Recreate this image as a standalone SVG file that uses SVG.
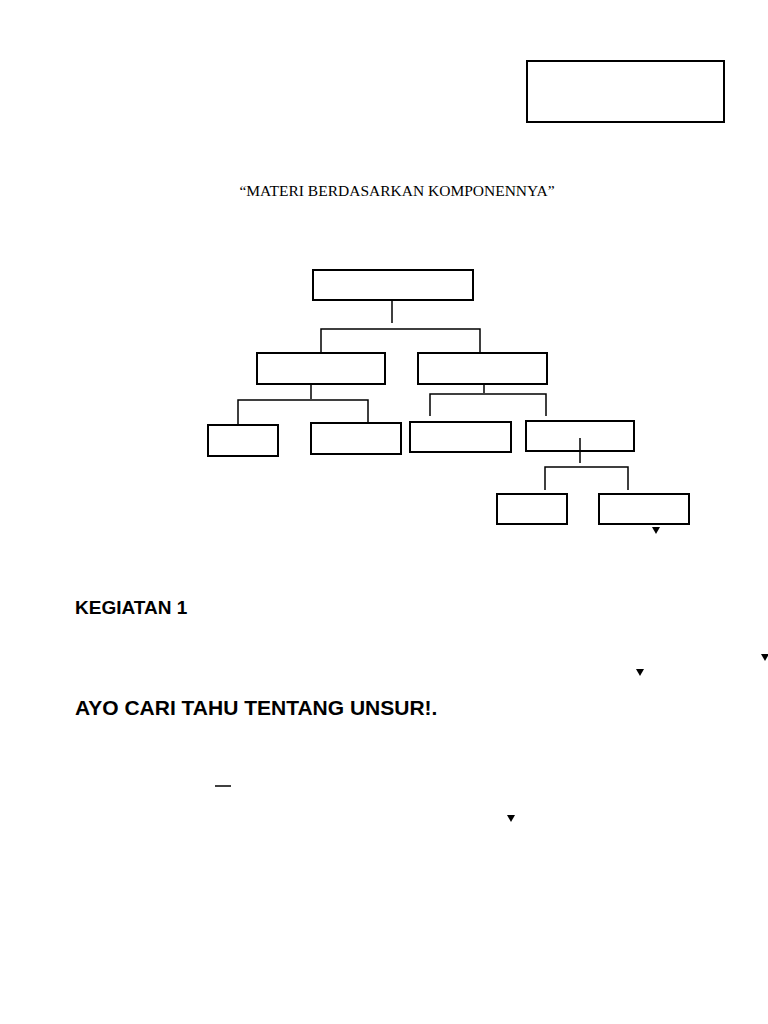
<svg xmlns="http://www.w3.org/2000/svg" width="768" height="1024" viewBox="0 0 768 1024">
<style>
.b{fill:none;stroke:#000;stroke-width:2}
.c{fill:none;stroke:#000;stroke-width:1.5}
.t{fill:#000}
</style>
<rect width="768" height="1024" fill="#fff"/>
<g id="corner"><rect class="b" x="527" y="61" width="197" height="61"/></g>
<text x="397" y="196" font-family="Liberation Serif, serif" font-size="15.5" text-anchor="middle">“MATERI BERDASARKAN KOMPONENNYA”</text>
<g id="connectors">
<path class="c" d="M392 300V323M321 352V329H480V352"/>
<path class="c" d="M311 384V399M238 425V400H368V422"/>
<path class="c" d="M484 384V393M430 416V394H546V416"/>
<path class="c" d="M580 438V463M545 490V467H628V490"/>
</g>
<g id="n1"><rect class="b" x="313" y="270" width="160" height="30"/></g>
<g id="n2"><rect class="b" x="257" y="353" width="128" height="31"/></g>
<g id="n3"><rect class="b" x="418" y="353" width="129" height="31"/></g>
<g id="n4"><rect class="b" x="208" y="425" width="70" height="31"/></g>
<g id="n5"><rect class="b" x="311" y="423" width="90" height="31"/></g>
<g id="n6"><rect class="b" x="410" y="422" width="101" height="30"/></g>
<g id="n7"><rect class="b" x="526" y="421" width="108" height="30"/></g>
<g id="n8"><rect class="b" x="497" y="494" width="70" height="30"/></g>
<g id="n9"><rect class="b" x="599" y="494" width="90" height="30"/></g>
<g id="marks">
<path class="t" d="M652 527h8l-4 7z"/>
<path class="t" d="M636 669h8l-4 7z"/>
<path class="t" d="M761 654h8l-4 7z"/>
<path class="t" d="M507 815h8l-4 7z"/>
<path class="c" d="M215 786H231"/>
</g>
<text x="75" y="614" font-family="Liberation Sans, Arial, sans-serif" font-size="19" font-weight="bold">KEGIATAN 1</text>
<text x="75" y="715" font-family="Liberation Sans, Arial, sans-serif" font-size="21" font-weight="bold">AYO CARI TAHU TENTANG UNSUR!.</text>
</svg>
